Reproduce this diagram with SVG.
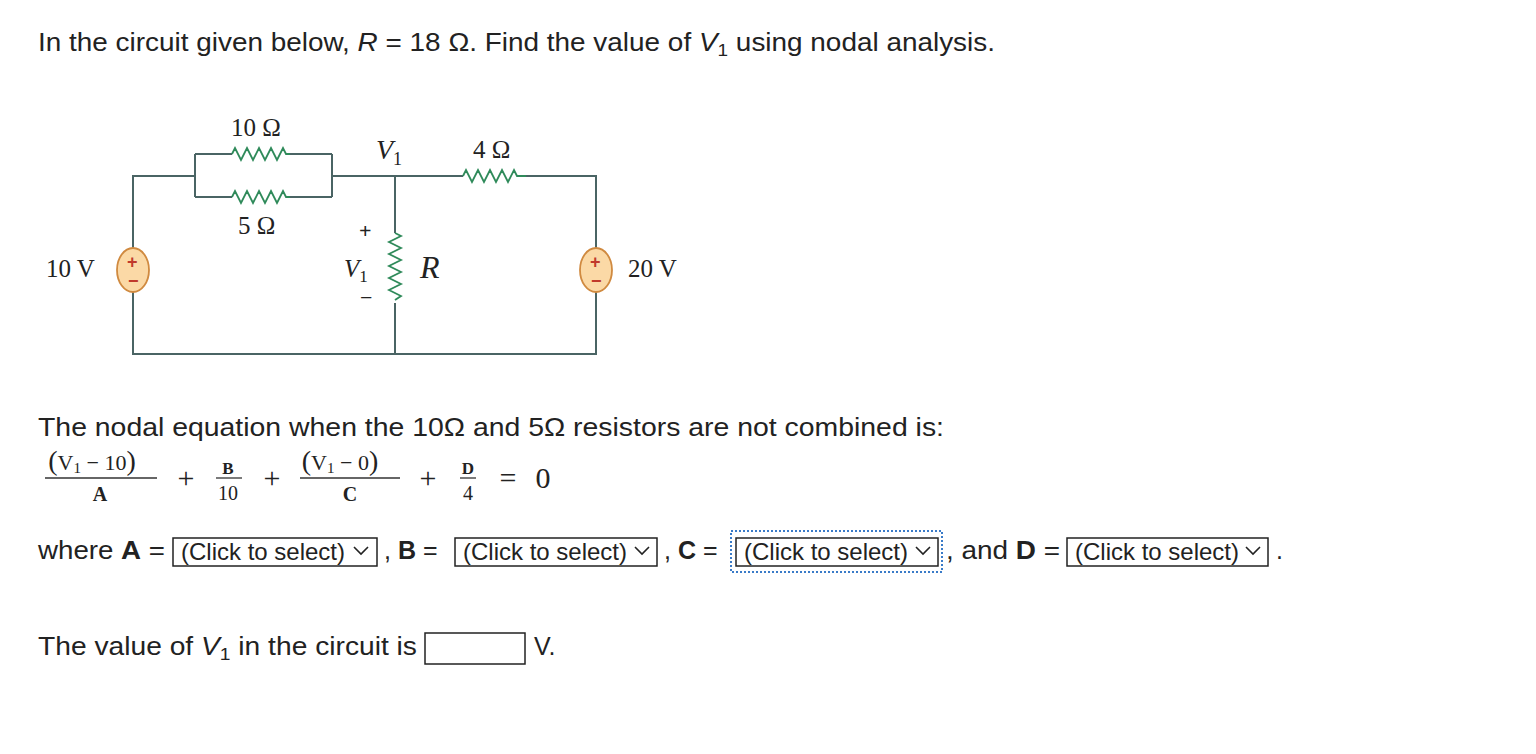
<svg xmlns="http://www.w3.org/2000/svg" width="1536" height="754" viewBox="0 0 1536 754">
<style>
.t{font-family:"Liberation Sans",Arial,sans-serif;font-size:25px;fill:#222}
.s{font-family:"Liberation Serif","Times New Roman",serif;fill:#222}
.w{fill:none;stroke:#4a6464;stroke-width:2}
.r{fill:none;stroke:#2f8a5a;stroke-width:1.8}
.box{fill:#fff;stroke:#222;stroke-width:1.5}
.src{fill:#fbd9a6;stroke:#d08a40;stroke-width:1.8}
.pm{fill:#c0392b;font-family:"Liberation Sans",Arial,sans-serif;font-size:18px;font-weight:bold}
.dd{font-family:"Liberation Sans",Arial,sans-serif;font-size:24px;fill:#222}
.c{text-anchor:middle}
</style>
<rect width="1536" height="754" fill="#fff"/>
<text class="t" x="38" y="51" textLength="957" lengthAdjust="spacingAndGlyphs">In the circuit given below, <tspan font-style="italic">R</tspan> = 18 Ω. Find the value of <tspan font-style="italic">V</tspan><tspan font-size="17" dy="5">1</tspan><tspan dy="-5"> using nodal analysis.</tspan></text>
<g id="connectors">
<path class="w" d="M133,248 V176 H195 M195,154 V197 M195,154 H232 M290,154 H332 M195,197 H232 M290,197 H332 M332,154 V197 M332,176 H463 M526,176 H596 V248 M133,292 V354 H596 V292 M395,176 V233 M395,303 V354"/>
</g>
<g id="r10"><path class="r" d="M232,154 l3,-6 l6,12 l6,-12 l6,12 l6,-12 l6,12 l6,-12 l6,12 l6,-12 l3,6 h4"/><text class="s" x="231" y="136" font-size="25">10 Ω</text></g>
<g id="r5"><path class="r" d="M232,197 l3,-6 l6,12 l6,-12 l6,12 l6,-12 l6,12 l6,-12 l6,12 l6,-12 l3,6 h4"/><text class="s" x="238" y="234" font-size="25">5 Ω</text></g>
<g id="r4"><path class="r" d="M463,176 l3,-6 l6,12 l6,-12 l6,12 l6,-12 l6,12 l6,-12 l6,12 l6,-12 l3,6 h9"/><text class="s" x="473" y="158" font-size="25">4 Ω</text></g>
<g id="rR"><path class="r" d="M395,233 l6,3 l-12,6 l12,6 l-12,6 l12,6 l-12,6 l12,6 l-12,6 l12,6 l-12,6 l12,6 l-6,4"/>
<text class="s" x="420" y="278" font-size="32" font-style="italic">R</text>
<text class="s" x="359" y="238" font-size="22" font-weight="bold">+</text>
<text class="s" x="344" y="277" font-size="25" font-style="italic">V<tspan font-size="17" dy="5" font-style="normal">1</tspan></text>
<text class="s" x="360" y="305" font-size="22">−</text></g>
<g id="v1label"><text class="s" x="376" y="159" font-size="28" font-style="italic">V<tspan font-size="18" dy="6" font-style="normal">1</tspan></text></g>
<g id="src10"><ellipse class="src" cx="133" cy="270" rx="16" ry="22"/><text class="pm" x="127" y="268">+</text><text class="pm" x="128" y="287">−</text><text class="s" x="46" y="277" font-size="25">10 V</text></g>
<g id="src20"><ellipse class="src" cx="596" cy="270" rx="16" ry="22"/><text class="pm" x="590" y="268">+</text><text class="pm" x="591" y="287">−</text><text class="s" x="628" y="277" font-size="25">20 V</text></g>
<text class="t" x="38" y="436" textLength="906" lengthAdjust="spacingAndGlyphs">The nodal equation when the 10Ω and 5Ω resistors are not combined is:</text>
<g class="s" font-size="22" fill="#333">
<text class="c" x="92" y="470"><tspan font-size="28">(</tspan>V<tspan font-size="15" dy="3">1</tspan><tspan dy="-3"> − 10</tspan><tspan font-size="28">)</tspan></text>
<line x1="45" y1="478" x2="157" y2="478" stroke="#333" stroke-width="1.3"/>
<text class="c" x="100" y="501" font-size="20" font-weight="bold">A</text>
<text class="c" x="186" y="488" font-size="30">+</text>
<text class="c" x="228" y="474" font-size="17" font-weight="bold">B</text>
<line x1="216" y1="478" x2="242" y2="478" stroke="#333" stroke-width="1.3"/>
<text class="c" x="228" y="500" font-size="20">10</text>
<text class="c" x="272" y="488" font-size="30">+</text>
<text class="c" x="340" y="470"><tspan font-size="28">(</tspan>V<tspan font-size="15" dy="3">1</tspan><tspan dy="-3"> − 0</tspan><tspan font-size="28">)</tspan></text>
<line x1="300" y1="478" x2="400" y2="478" stroke="#333" stroke-width="1.3"/>
<text class="c" x="350" y="501" font-size="20" font-weight="bold">C</text>
<text class="c" x="428" y="488" font-size="30">+</text>
<text class="c" x="468" y="474" font-size="17" font-weight="bold">D</text>
<line x1="460" y1="478" x2="476" y2="478" stroke="#333" stroke-width="1.3"/>
<text class="c" x="468" y="500" font-size="20">4</text>
<text class="c" x="508" y="488" font-size="30">=</text>
<text class="c" x="543" y="488" font-size="30">0</text>
</g>
<text class="t" x="38" y="559" textLength="127" lengthAdjust="spacingAndGlyphs">where <tspan font-weight="bold">A</tspan> =</text>
<g id="ddA"><rect class="box" x="173" y="538" width="204" height="28"/><text class="dd" x="181" y="560" textLength="164" lengthAdjust="spacingAndGlyphs">(Click to select)</text><path d="M354,547 l7,7 l7,-7" fill="none" stroke="#222" stroke-width="1.6"/></g>
<text class="t" x="384" y="559">,  <tspan font-weight="bold">B</tspan> =</text>
<g id="ddB"><rect class="box" x="455" y="538" width="202" height="28"/><text class="dd" x="463" y="560" textLength="164" lengthAdjust="spacingAndGlyphs">(Click to select)</text><path d="M635,547 l7,7 l7,-7" fill="none" stroke="#222" stroke-width="1.6"/></g>
<text class="t" x="664" y="559">,  <tspan font-weight="bold">C</tspan> =</text>
<g id="ddC"><rect x="731" y="531" width="211" height="41" fill="none" stroke="#3a7bc8" stroke-width="2" stroke-dasharray="2,2"/><rect class="box" x="736" y="538" width="202" height="28"/><text class="dd" x="744" y="560" textLength="164" lengthAdjust="spacingAndGlyphs">(Click to select)</text><path d="M916,547 l7,7 l7,-7" fill="none" stroke="#222" stroke-width="1.6"/></g>
<text class="t" x="946" y="559" textLength="114" lengthAdjust="spacingAndGlyphs">, and <tspan font-weight="bold">D</tspan> =</text>
<g id="ddD"><rect class="box" x="1067" y="538" width="201" height="28"/><text class="dd" x="1075" y="560" textLength="164" lengthAdjust="spacingAndGlyphs">(Click to select)</text><path d="M1246,547 l7,7 l7,-7" fill="none" stroke="#222" stroke-width="1.6"/></g>
<text class="t" x="1276" y="559">.</text>
<text class="t" x="38" y="655" textLength="379" lengthAdjust="spacingAndGlyphs">The value of <tspan font-style="italic">V</tspan><tspan font-size="17" dy="5">1</tspan><tspan dy="-5"> in the circuit is</tspan></text>
<rect class="box" x="425" y="633" width="100" height="31"/>
<text class="t" x="534" y="655">V.</text>
</svg>
